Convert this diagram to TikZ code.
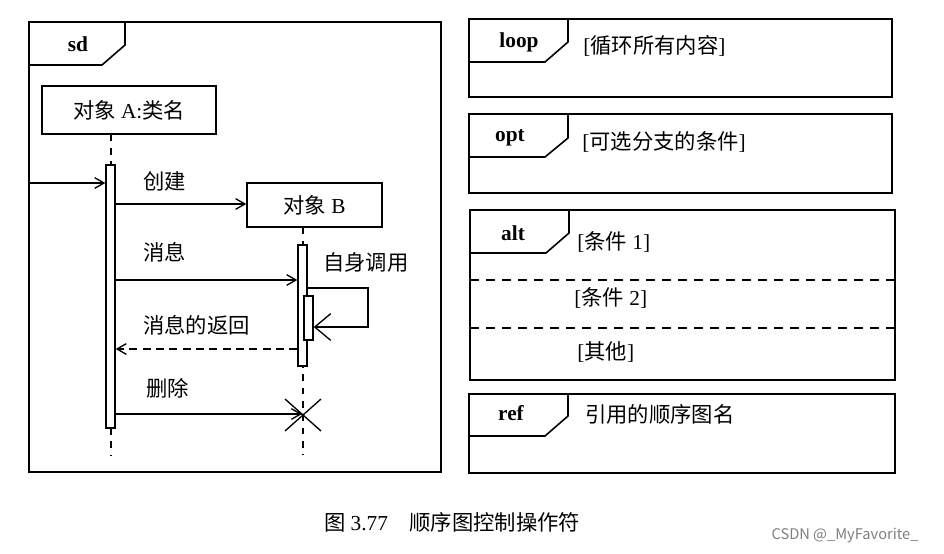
\documentclass[tikz,border=0pt]{standalone}
\usepackage{fontspec}
\setmainfont{Liberation Serif}
\newfontfamily\cjk{Noto Sans CJK SC}
\usetikzlibrary{arrows.meta}
\begin{document}
\begin{tikzpicture}[x=0.75pt,y=-0.75pt,
  frm/.style={draw,line width=1.2pt},
  obj/.style={draw,line width=1.1pt,fill=white,inner sep=0pt,font=\fontsize{16}{18}\selectfont},
  bar/.style={draw,line width=1pt,fill=white},
  life/.style={dashed,line width=1pt,dash pattern=on 5pt off 5pt},
  msg/.style={line width=1pt,-{Straight Barb[length=7pt,width=8pt]}},
  lbl/.style={font=\fontsize{16}{18}\selectfont,inner sep=0pt},
  tag/.style={font=\bfseries\fontsize{16}{18}\selectfont,inner sep=0pt}]
\fill[white!95!blue!3] (0,0) rectangle (944,553);
\useasboundingbox (0,0) rectangle (944,553);
% sd frame
\draw[frm] (29,22) rectangle (441,472);
\draw[frm] (125,22) -- (125,45) -- (102,65) -- (29,65);
\node[tag] (sd) at (78,44) {sd};
\node[obj,minimum width=174*0.75pt,minimum height=48*0.75pt] (A) at (129,110) {{\cjk 对象} A:{\cjk 类名}};
\node[obj,minimum width=135*0.75pt,minimum height=44*0.75pt] (B) at (314.5,205) {{\cjk 对象} B};
\coordinate (Aend) at (111,455);
\coordinate (Bend) at (303,455);
\draw[life] (A.south -| Aend) -- (Aend);
\draw[life] (B.south -| Bend) -- (Bend);
\node[bar,minimum width=9*0.75pt,minimum height=263*0.75pt,inner sep=0pt] (barA) at (110.5,296.5) {};
\node[bar,minimum width=9*0.75pt,minimum height=121*0.75pt,inner sep=0pt] (barB) at (302.5,305.5) {};
\node[bar,minimum width=9*0.75pt,minimum height=44*0.75pt,inner sep=0pt] (barC) at (308.5,318) {};
\coordinate (in) at (29,183);
\draw[msg] (in) -- (in -| barA.west);
\draw[msg] (barA.east |- 0,204) -- (B.west |- 0,204);
\node[lbl,anchor=west] (l1) at (143,181) {\cjk 创建};
\draw[msg] (barA.east |- 0,280) -- (barB.west |- 0,280);
\node[lbl,anchor=west] (l2) at (143,252) {\cjk 消息};
\node[lbl,anchor=west] (l3) at (323,262) {\cjk 自身调用};
\draw[line width=1pt,-{Straight Barb[length=12pt,width=20pt]}] (barB.east |- 0,288) -- (368,288) -- (368,327) -- (barC.east |- 0,327);
\node[lbl,anchor=west] (l4) at (143,325) {\cjk 消息的返回};
\draw[msg,dashed,dash pattern=on 6pt off 4pt] (barB.west |- 0,349) -- (barA.east |- 0,349);
\node[lbl,anchor=west] (l5) at (146,388) {\cjk 删除};
\coordinate (X) at (302,414);
\draw[msg] (barA.east |- X) -- (X);
\draw[line width=1pt] (285,399) -- (321,431) (285,431) -- (321,399);
% loop
\draw[frm] (469,19) rectangle (892,97);
\draw[frm] (568,19) -- (568,42) -- (545,62) -- (469,62);
\node[tag] (loop) at (519,42) {loop};
\node[lbl,anchor=west] (t1) at (583,46) {[{\cjk 循环所有内容}]};
% opt
\draw[frm] (469,114) rectangle (892,193);
\draw[frm] (568,114) -- (568,138) -- (545,157) -- (469,157);
\node[tag] (opt) at (510,138) {opt};
\node[lbl,anchor=west] (t2) at (582,142) {[{\cjk 可选分支的条件}]};
% alt
\draw[frm] (470,210) rectangle (895,380);
\draw[frm] (569,210) -- (569,233) -- (546,253) -- (470,253);
\node[tag] (alt) at (513,233) {alt};
\node[lbl,anchor=west] (t3) at (577,242) {[{\cjk 条件} 1]};
\draw[line width=1.1pt,dash pattern=on 7pt off 5pt] (470,280) -- (895,280);
\draw[line width=1.1pt,dash pattern=on 7pt off 5pt] (470,328) -- (895,328);
\node[lbl,anchor=west] (t4) at (574,298) {[{\cjk 条件} 2]};
\node[lbl,anchor=west] (t5) at (577,352) {[{\cjk 其他}]};
% ref
\draw[frm] (469,394) rectangle (895,473);
\draw[frm] (568,394) -- (568,416) -- (545,436) -- (469,436);
\node[tag] (ref) at (511,413) {ref};
\node[lbl,anchor=west] (t6) at (585,414) {\cjk 引用的顺序图名};
% caption
\node[lbl] (cap) at (452,522) {{\cjk 图} 3.77\quad{\cjk 顺序图控制操作符}};
\node[font=\fontsize{11}{13}\selectfont,text=gray,inner sep=0pt] (wm) at (845,536) {\cjk CSDN @\_MyFavorite\_};
\end{tikzpicture}
\end{document}
